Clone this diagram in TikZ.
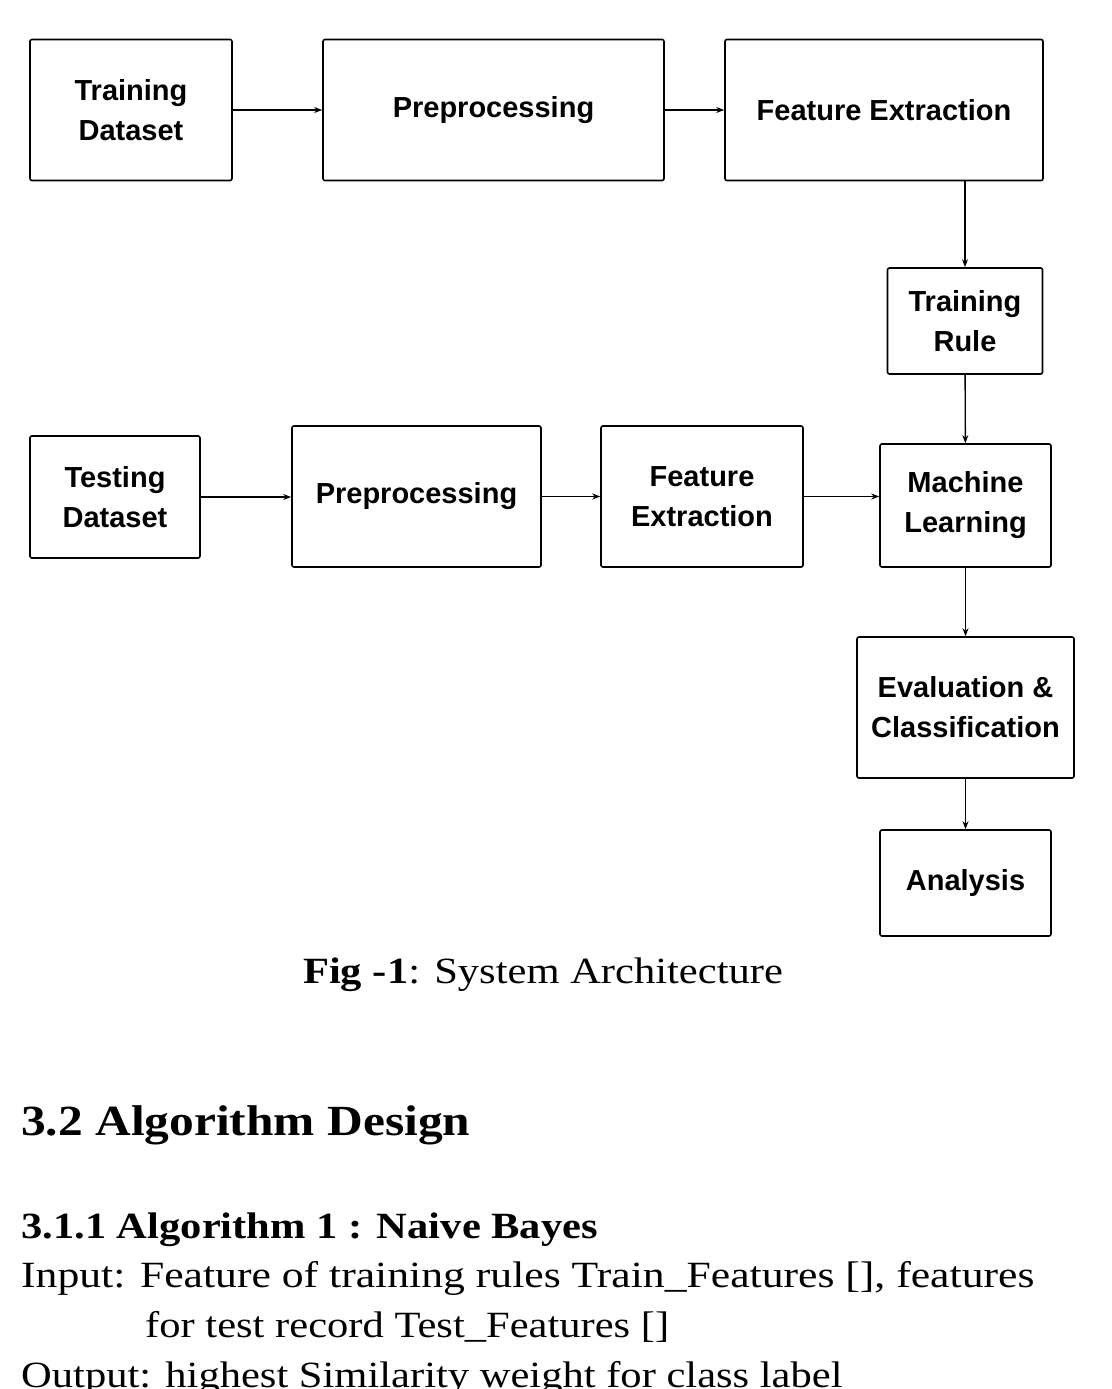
\documentclass[tikz,border=0pt]{standalone}
\usepackage{fontspec}
\setmainfont{Liberation Serif}
\newfontfamily\boxfont{Liberation Sans}
\usetikzlibrary{arrows.meta}
\newcommand{\wide}[1]{\scalebox{1.15}[1]{#1}}
\begin{document}
\begin{tikzpicture}[x=1pt,y=-1pt,
  box/.style={draw,line width=1.6pt,rounded corners=2pt,align=center,font=\boxfont\bfseries\fontsize{29}{40}\selectfont,inner sep=0pt},
  arr/.style={-{Stealth[length=8pt,width=6pt]},line width=1.4pt}]
\useasboundingbox (0,0) rectangle (1111,1389);
\clip (0,0) rectangle (1111,1389);
\node[box,minimum width=202pt,minimum height=141pt] (td) at (131,110) {Training\\Dataset};
\node[box,minimum width=341pt,minimum height=141pt] (p1) at (493.5,110) {Preprocessing};
\node[box,minimum width=318pt,minimum height=141pt] (f1) at (884,110) {Feature Extraction};
\node[box,minimum width=155pt,minimum height=106pt] (tr) at (965,321) {Training\\Rule};
\node[box,minimum width=170pt,minimum height=122pt] (ts) at (115,497) {Testing\\Dataset};
\node[box,minimum width=249pt,minimum height=141pt] (p2) at (416.5,496.5) {Preprocessing};
\node[box,minimum width=202pt,minimum height=141pt] (f2) at (702,496.5) {Feature\\Extraction};
\node[box,minimum width=171pt,minimum height=123pt] (ml) at (965.5,505.5) {Machine\\Learning};
\node[box,minimum width=217pt,minimum height=141pt] (ev) at (965.5,707.5) {Evaluation \&\\Classification};
\node[box,minimum width=171pt,minimum height=106pt] (an) at (965.5,883) {Analysis};
\draw[arr] (td) -- (p1);
\draw[arr] (p1) -- (f1);
\draw[arr] (f1.south -| tr) -- (tr);
\draw[arr] (tr) -- (ml);
\draw[arr] (ts) -- (ts -| p2.west);
\draw[arr] (p2) -- (f2);
\draw[arr] (f2) -- (f2 -| ml.west);
\draw[arr] (ml) -- (ev);
\draw[arr] (ev) -- (an);
\node[font=\fontsize{37}{44}\selectfont] (cap) at (543,975) {\wide{\textbf{Fig -1}: System Architecture}};
\node[anchor=west,font=\bfseries\fontsize{43}{50}\selectfont,inner sep=0pt] (h1) at (21,1125) {\wide{3.2 Algorithm Design}};
\node[anchor=west,font=\bfseries\fontsize{37}{44}\selectfont,inner sep=0pt] (h2) at (21,1230) {\wide{3.1.1 Algorithm 1 : Naive Bayes}};
\node[anchor=west,font=\fontsize{37}{44}\selectfont,inner sep=0pt] (l1) at (21,1278) {\scalebox{1.18}[1]{Input: Feature of training rules Train\_Features [], features}};
\node[anchor=west,font=\fontsize{37}{44}\selectfont,inner sep=0pt] (l2) at (145,1327) {\wide{for test record Test\_Features []}};
\node[anchor=west,font=\fontsize{37}{44}\selectfont,inner sep=0pt] (l3) at (21,1378) {\wide{Output: highest Similarity weight for class label}};
\end{tikzpicture}
\end{document}
